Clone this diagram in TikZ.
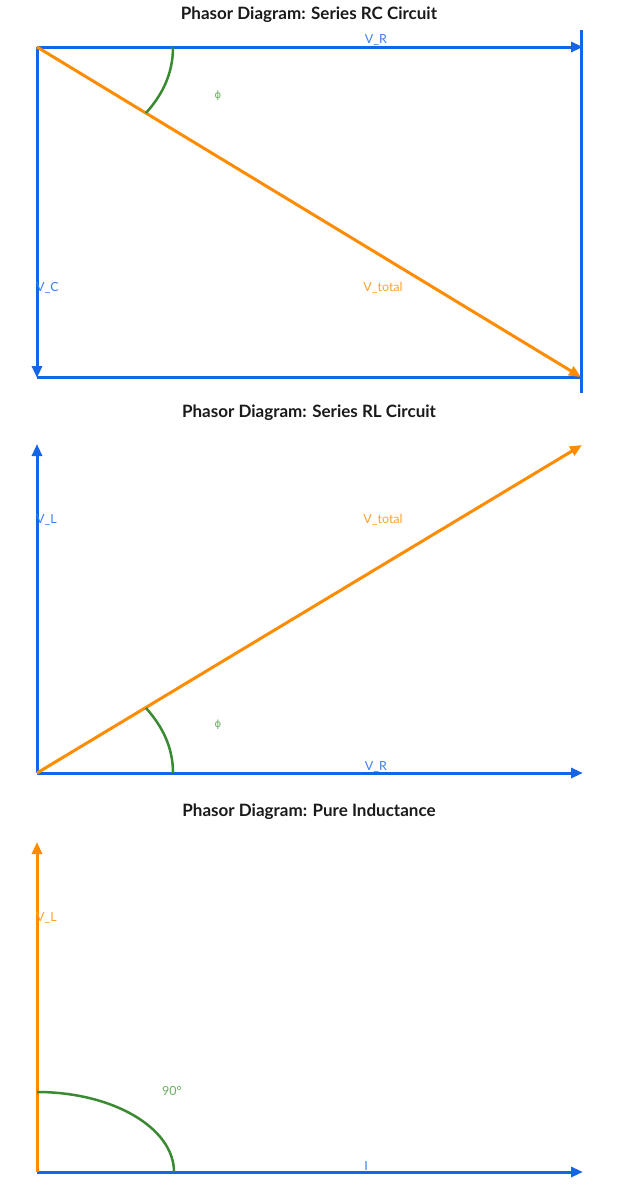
\documentclass[tikz,border=0pt]{standalone}
\usepackage{fontspec}
\setmainfont{Lato}
\newfontfamily\symfont{DejaVu Sans}
\usetikzlibrary{arrows.meta}
\definecolor{pblue}{HTML}{1565E8}
\definecolor{lblue}{HTML}{3B7FF0}
\definecolor{porange}{HTML}{FF8C00}
\definecolor{lorange}{HTML}{FFA033}
\definecolor{pgreen}{HTML}{3A8A32}
\definecolor{lgreen}{HTML}{6BAE62}
\definecolor{ttext}{HTML}{1A1A1A}
\begin{document}
\begin{tikzpicture}[x=1pt,y=-1pt,
  vec/.style={line width=3pt,-{Triangle[length=12pt,width=10pt]}},
  ln/.style={line width=3pt},
  ang/.style={line width=2.5pt,draw=pgreen},
  ttl/.style={font=\bfseries\fontsize{17}{20}\selectfont,text=ttext,inner sep=0pt},
  lbl/.style={font=\fontsize{12.5}{15}\selectfont,inner sep=0pt},
]
\useasboundingbox (0,0) rectangle (618,1200);

% ---------- Panel 1: Series RC ----------
\node[ttl] (title1) at (309,15) {Phasor Diagram: Series RC Circuit};
\coordinate (o1) at (37,47);
\coordinate (r1) at (583,47);
\coordinate (c1) at (37,378);
\coordinate (cb1) at (37,377);
\coordinate (t1) at (581,377);
\coordinate (vt1) at (581.5,30);
\coordinate (vb1) at (581.5,393);
\coordinate (a1s) at (173,47);
\coordinate (a1e) at (146,113);
\draw[vec,draw=pblue,fill=pblue] (o1) -- (r1);
\draw[vec,draw=pblue,fill=pblue] (o1) -- (c1);
\draw[ln,draw=pblue] (cb1) -- (t1);
\draw[vec,draw=porange,fill=porange] (o1) -- (t1);
\draw[ln,draw=pblue] (vt1) -- (vb1);
\draw[ang] (a1s) .. controls (173,73) and (163,94) .. (a1e);
\node[lbl,text=lblue] (vr1) at (376,40) {V\_R};
\node[lbl,text=lblue,anchor=west] (vc1) at (36,288) {V\_C};
\node[lbl,text=lorange] (vtot1) at (383,288) {V\_total};
\node[lbl,text=lgreen,font=\symfont\fontsize{10}{12}\selectfont] (phi1) at (218,96) {ϕ};

% ---------- Panel 2: Series RL ----------
\node[ttl] (title2) at (309,413) {Phasor Diagram: Series RL Circuit};
\coordinate (o2) at (37,773);
\coordinate (r2) at (583,773);
\coordinate (l2) at (37,444);
\coordinate (t2) at (582,445);
\coordinate (a2s) at (146,708);
\coordinate (a2e) at (173,773);
\draw[vec,draw=pblue,fill=pblue] (o2) -- (r2);
\draw[vec,draw=pblue,fill=pblue] (o2) -- (l2);
\draw[vec,draw=porange,fill=porange] (o2) -- (t2);
\draw[ang] (a2s) .. controls (163,727) and (173,748) .. (a2e);
\node[lbl,text=lblue,anchor=west] (vl2) at (36,520) {V\_L};
\node[lbl,text=lorange] (vtot2) at (383,520) {V\_total};
\node[lbl,text=lblue] (vr2) at (376,767) {V\_R};
\node[lbl,text=lgreen,font=\symfont\fontsize{10}{12}\selectfont] (phi2) at (218,725) {ϕ};

% ---------- Panel 3: Pure Inductance ----------
\node[ttl] (title3) at (309,812) {Phasor Diagram: Pure Inductance};
\coordinate (o3) at (37,1172);
\coordinate (l3) at (37,842);
\coordinate (i3) at (583,1172);
\coordinate (a3s) at (37,1092);
\coordinate (a3e) at (174,1172);
\draw[vec,draw=pblue,fill=pblue] (o3) -- (i3);
\draw[vec,draw=porange,fill=porange] (o3) -- (l3);
\draw[ang] (a3s) .. controls (112.6,1092) and (174,1127.8) .. (a3e);
\node[lbl,text=lorange,anchor=west] (vl3) at (36,918) {V\_L};
\node[lbl,text=lgreen] (deg3) at (172,1091) {90°};
\node[lbl,text=lblue] (i3l) at (366,1166) {I};
\end{tikzpicture}
\end{document}
